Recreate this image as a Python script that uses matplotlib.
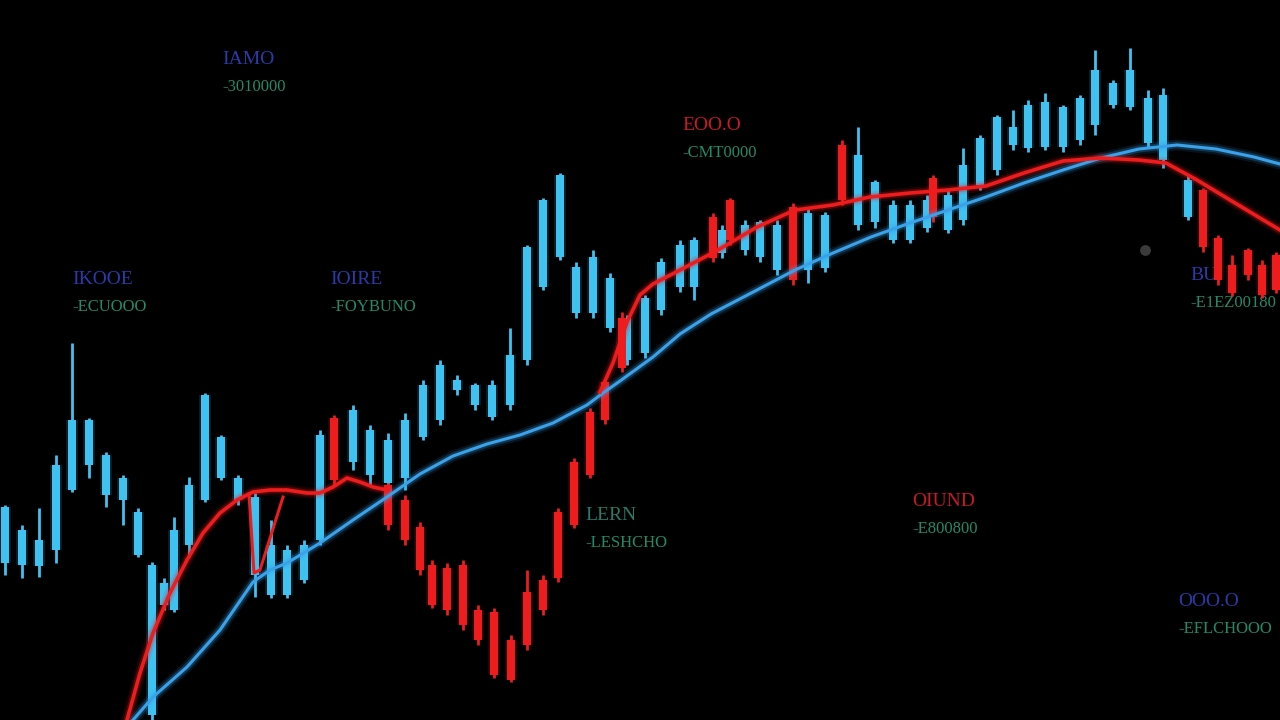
import matplotlib
matplotlib.use("Agg")
import matplotlib.pyplot as plt
import numpy as np

# Chart is drawn in a 1280 x 720 "screen" coordinate space (y grows downward)

# Blue candles: x, body top, body bottom, wick top, wick bottom
blue_x = [5, 22, 39, 56, 72, 89, 106, 123, 138, 152, 164, 174, 189, 205, 221, 238, 255, 271, 287, 304,
          320, 353, 370, 388, 405, 423, 440, 457, 475, 492, 510, 527, 543, 560, 576, 593, 610, 627, 645, 661,
          680, 694, 722, 745, 760, 777, 808, 825, 858, 875, 893, 910, 927, 948, 963, 980, 997, 1013, 1028,
          1045, 1063, 1080, 1095, 1113, 1130, 1148, 1163, 1188]
blue_top = [507, 530, 540, 465, 420, 420, 455, 478, 512, 565, 583, 530, 485, 395, 437, 478, 497, 545, 550, 545,
            435, 410, 430, 440, 420, 385, 365, 380, 385, 385, 355, 247, 200, 175, 267, 257, 278, 318, 298, 262,
            245, 240, 230, 225, 222, 225, 213, 215, 155, 182, 205, 205, 200, 195, 165, 138, 117, 127, 105,
            102, 107, 98, 70, 83, 70, 98, 95, 180]
blue_bot = [563, 565, 566, 550, 490, 465, 495, 500, 555, 715, 605, 610, 545, 500, 478, 500, 575, 595, 595, 580,
            540, 462, 475, 483, 478, 437, 420, 390, 405, 417, 405, 360, 287, 257, 313, 313, 328, 360, 353, 310,
            287, 287, 253, 250, 257, 270, 270, 268, 225, 222, 240, 240, 228, 230, 220, 185, 170, 145, 148,
            147, 147, 140, 125, 105, 107, 143, 160, 217]
blue_hi = [505, 525, 508, 455, 343, 418, 452, 475, 508, 562, 578, 517, 477, 393, 435, 475, 493, 520, 545, 540,
           430, 405, 425, 433, 413, 380, 360, 375, 383, 380, 328, 245, 198, 173, 262, 250, 273, 315, 295, 258,
           240, 237, 225, 220, 220, 220, 208, 212, 127, 180, 200, 200, 195, 190, 148, 135, 115, 110, 100,
           93, 105, 95, 50, 80, 48, 90, 88, 175]
blue_lo = [575, 578, 577, 563, 492, 478, 507, 525, 557, 720, 610, 612, 557, 502, 480, 505, 597, 598, 598, 583,
           545, 470, 485, 490, 490, 440, 425, 395, 410, 420, 410, 365, 290, 260, 318, 318, 332, 365, 358, 315,
           292, 300, 258, 255, 262, 275, 283, 272, 230, 228, 243, 243, 232, 233, 225, 190, 175, 150, 152,
           150, 152, 145, 135, 108, 110, 147, 168, 220]

# Red candles
red_x = [334, 388, 405, 420, 432, 447, 463, 478, 494, 511, 527, 543, 558, 574, 590, 605, 622,
         713, 730, 793, 842, 933, 1203, 1218, 1232, 1248, 1262, 1276]
red_top = [418, 485, 500, 527, 565, 568, 565, 610, 612, 640, 592, 580, 512, 462, 412, 382, 318,
           217, 200, 207, 145, 178, 190, 238, 265, 250, 265, 255]
red_bot = [480, 525, 540, 570, 605, 610, 625, 640, 675, 680, 645, 610, 578, 525, 475, 420, 368,
           258, 240, 280, 200, 217, 247, 280, 293, 275, 295, 290]
red_hi = [415, 483, 495, 522, 560, 563, 560, 605, 608, 635, 570, 575, 508, 458, 408, 378, 312,
          213, 198, 203, 140, 175, 188, 235, 255, 248, 260, 252]
red_lo = [485, 530, 545, 575, 608, 615, 630, 645, 678, 682, 650, 615, 582, 528, 478, 424, 372,
          262, 245, 285, 205, 222, 252, 285, 296, 280, 298, 293]

# Moving averages
ma_blue_x = [133, 153, 187, 220, 253, 270, 287, 320, 353, 387, 420, 453, 487, 520, 553, 587, 603, 620, 653, 680,
             711, 757, 795, 833, 871, 910, 948, 986, 1024, 1063, 1101, 1139, 1177, 1216, 1254, 1280]
ma_blue_y = [720, 697, 667, 630, 582, 570, 563, 543, 520, 497, 474, 456, 444, 435, 423, 405, 393, 381, 357, 334,
             314, 290, 270, 253, 237, 223, 210, 197, 183, 170, 158, 149, 145, 149, 157, 164]
ma_red_x = [127, 140, 153, 170, 187, 203, 220, 237, 253, 270, 287, 307, 320, 333, 347, 360, 373, 387,
            600, 613, 627, 640, 653, 680, 718, 757, 795, 833, 870, 910, 948, 986, 1024, 1063, 1101, 1139,
            1166, 1197, 1235, 1280]
ma_red_y = [720, 673, 633, 593, 560, 533, 513, 500, 492, 490, 490, 493, 493, 487, 478, 482, 487, 490,
            392, 363, 322, 295, 284, 270, 250, 227, 210, 205, 197, 193, 190, 186, 173, 161, 158, 160,
            163, 180, 203, 230]
# small red spike hanging under the red line
jag_x = [249, 254, 260, 283]
jag_y = [494, 573, 570, 497]

# Labels: (x, y, top text, bottom text, top colour)
lab_x = [222, 682, 72, 330, 585, 912, 1178, 1190]
lab_y = [60, 126, 280, 280, 516, 502, 602, 276]
lab_top = ["IAMO", "EOO.O", "IKOOE", "IOIRE", "LERN", "OIUND", "OOO.O", "BU"]
lab_bot = ["-3010000", "-CMT0000", "-ECUOOO", "-FOYBUNO", "-LESHCHO", "-E800800", "-EFLCHOOO", "-E1EZ00180"]
lab_col = ["#2a3aa8", "#c8182a", "#2a3aa8", "#2a3aa8", "#2a7a66", "#c8182a", "#2a3aa8", "#2a3aa8"]

CYAN = "#3ec2f2"
RED = "#ee1c1c"
LINE_BLUE = "#3aa2ea"
GREEN_TXT = "#228a6a"

fig = plt.figure(figsize=(12.8, 7.2), dpi=100, facecolor="black")
ax = fig.add_axes([0, 0, 1, 1])
ax.set_facecolor("black")
ax.set_xlim(0, 1280)
ax.set_ylim(720, 0)
ax.axis("off")

# labels first so candles sit on top
for x, y, t, b, c in zip(lab_x, lab_y, lab_top, lab_bot, lab_col):
    ax.text(x, y, t, color=c, fontsize=14, family="Liberation Serif", va="center", ha="left", zorder=1)
    ax.text(x, y + 27, b, color=GREEN_TXT, fontsize=12, family="Liberation Serif", va="center", ha="left",
            zorder=1)

def candles(xs, top, bot, hi, lo, color):
    xs = np.array(xs)
    top, bot = np.array(top), np.array(bot)
    # glow
    ax.bar(xs, bot - top, bottom=top, width=12, color=color, alpha=0.15, zorder=2, linewidth=0)
    ax.vlines(xs, hi, lo, color=color, linewidth=2, zorder=3)
    ax.bar(xs, bot - top, bottom=top, width=8, color=color, zorder=3, linewidth=0)

candles(blue_x, blue_top, blue_bot, blue_hi, blue_lo, CYAN)
candles(red_x, red_top, red_bot, red_hi, red_lo, RED)

# red MA has a gap through the dip
rx = np.array(ma_red_x, dtype=float)
ry = np.array(ma_red_y, dtype=float)
gap = np.where(np.diff(rx) > 100)[0][0] + 1
rx = np.insert(rx, gap, np.nan)
ry = np.insert(ry, gap, np.nan)

for lw, a in [(8, 0.12), (5, 0.25)]:
    ax.plot(ma_blue_x, ma_blue_y, color=LINE_BLUE, lw=lw, alpha=a, zorder=4, solid_capstyle="round")
    ax.plot(rx, ry, color=RED, lw=lw, alpha=a, zorder=4, solid_capstyle="round")
ax.plot(ma_blue_x, ma_blue_y, color=LINE_BLUE, lw=2.2, zorder=5, solid_joinstyle="round")
ax.plot(rx, ry, color=RED, lw=2.6, zorder=5, solid_joinstyle="round")
ax.plot(jag_x, jag_y, color=RED, lw=2.2, zorder=5, solid_joinstyle="round")

# faint blurred spot
ax.scatter([1145], [250], s=60, color="#777777", alpha=0.5, zorder=2, linewidths=0)

fig.savefig("out.png", dpi=100, facecolor="black")
